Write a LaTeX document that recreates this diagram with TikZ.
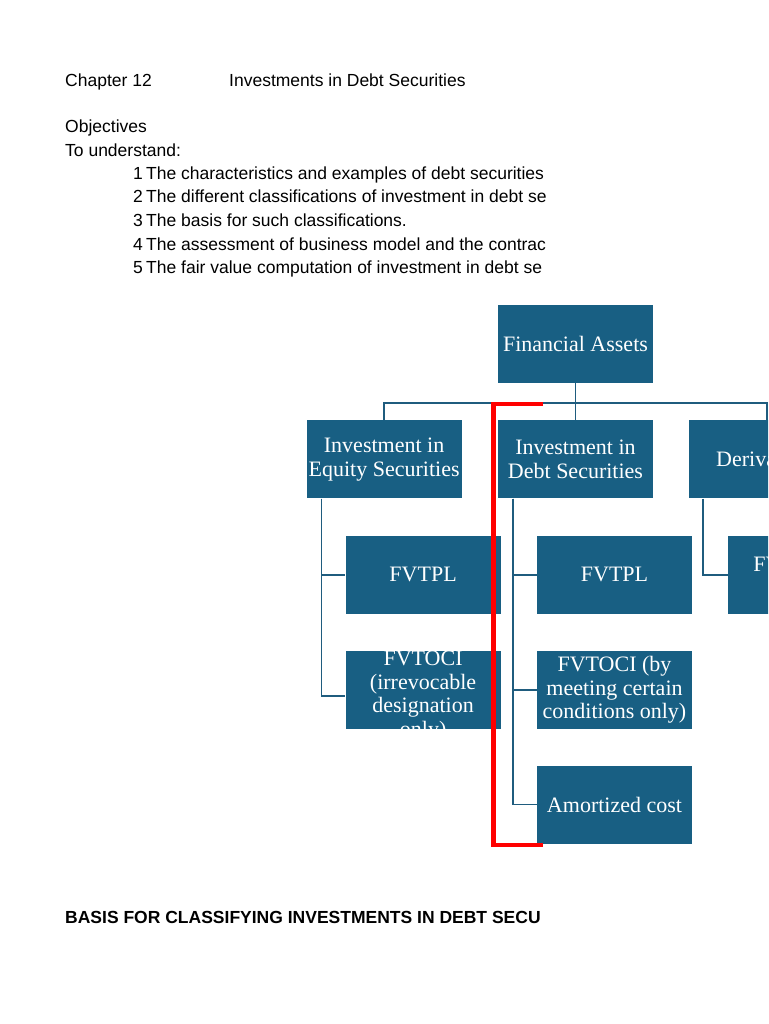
\documentclass[tikz,border=0pt]{standalone}
\usepackage{fontspec}
\setmainfont{Liberation Serif}
\newfontfamily\sheetfont{Liberation Sans}
\usepackage{tikz}
\usetikzlibrary{positioning}
\definecolor{boxblue}{RGB}{24,95,131}
\definecolor{lineblue}{RGB}{31,92,126}
\tikzset{
  orgbox/.style={rectangle, fill=boxblue, text=white, minimum width=155pt, minimum height=78pt,
                 inner sep=0pt, align=center, font=\fontsize{22}{23.5}\selectfont},
  orgline/.style={draw=lineblue, line width=1.7pt},
  sheettext/.style={anchor=base west, inner sep=0pt, font=\sheetfont\fontsize{17.5}{23.5}\selectfont},
  sheetnum/.style={sheettext, anchor=base east},
  marker/.style={draw=red, line width=4.6pt},
}

\begin{document}
\begin{tikzpicture}[x=1pt, y=-1pt]
  \useasboundingbox (0,0) rectangle (768,1024);
  \clip (0,0) rectangle (768,1024);
  \fill[white] (0,0) rectangle (768,1024);

  % sheet text, cut off at the column edge
  \begin{scope}
    \clip (0,0) rectangle (545,1024);
    \node[sheettext] (chap) at (65,87) {Chapter 12};
    \node[sheettext] (title) at (229,87) {Investments in Debt Securities};
    \node[sheettext] (obj) at (65,133) {Objectives};
    \node[sheettext] (under) at (65,157) {To understand:};
    \node[sheetnum] (num1) at (143,180) {1};
    \node[sheettext] (obj1) at (146,180) {The characteristics and examples of debt securities};
    \node[sheetnum] (num2) at (143,203) {2};
    \node[sheettext] (obj2) at (146,203) {The different classifications of investment in debt se};
    \node[sheetnum] (num3) at (143,226) {3};
    \node[sheettext] (obj3) at (146,226) {The basis for such classifications.};
    \node[sheetnum] (num4) at (143,250) {4};
    \node[sheettext] (obj4) at (146,250) {The assessment of business model and the contrac};
    \node[sheetnum] (num5) at (143,273) {5};
    \node[sheettext] (obj5) at (146,273) {The fair value computation of investment in debt se};
    \node[sheettext, font=\sheetfont\bfseries\fontsize{17.5}{23.5}\selectfont] (basis) at (65,923)
      {BASIS FOR CLASSIFYING INVESTMENTS IN DEBT SECU};
  \end{scope}

  % chart
  \node[orgbox] (fa) at (575.5,344) {Financial Assets};
  \node[orgbox] (debt) [below=37pt of fa] {Investment in\\Debt Securities};
  \node[orgbox] (equity) [left=36pt of debt] {Investment in\\Equity Securities};
  \node[orgbox] (deriv) [right=36pt of debt] {Derivatives};

  \node[orgbox] (eqpl) [below=37pt of equity, xshift=39pt] {FVTPL};
  \begin{scope}
    \clip (346,650) rectangle (501,728);
    \node[orgbox] (eqoci) [below=37pt of eqpl] {FVTOCI\\(irrevocable\\designation\\only)};
  \end{scope}

  \node[orgbox] (debtpl) [below=37pt of debt, xshift=39pt] {FVTPL};
  \node[orgbox] (debtoci) [below=37pt of debtpl] {FVTOCI (by\\meeting certain\\conditions only)};
  \node[orgbox] (debtam) [below=36pt of debtoci] {Amortized cost};

  \node[orgbox] (derivfv) [below=37pt of deriv, xshift=39pt] {};
  \node[anchor=base west, inner sep=0pt, text=white, font=\fontsize{22}{23.5}\selectfont] (fvtext)
    at ([xshift=25pt, yshift=-36pt]derivfv.north west) {FV};

  \draw[orgline] (fa.south) -- ++(0,20) -| (equity.north);
  \draw[orgline] (fa.south) -- (debt.north);
  \draw[orgline] (fa.south) ++(0,20) -| (deriv.north);

  \draw[orgline] ([xshift=15pt]equity.south west) |- (eqpl.west);
  \draw[orgline] ([xshift=15pt]equity.south west) |- (eqoci.west);
  \draw[orgline] ([xshift=15pt]debt.south west) |- (debtpl.west);
  \draw[orgline] ([xshift=15pt]debt.south west) |- (debtoci.west);
  \draw[orgline] ([xshift=15pt]debt.south west) |- (debtam.west);
  \draw[orgline] ([xshift=14pt]deriv.south west) |- (derivfv.west);

  % red bracket
  \coordinate (redtop) at (543,404);
  \coordinate (redbot) at (543,845);
  \draw[marker] (redtop) -- ++(-49.5,0) |- (redbot);
\end{tikzpicture}
\end{document}
